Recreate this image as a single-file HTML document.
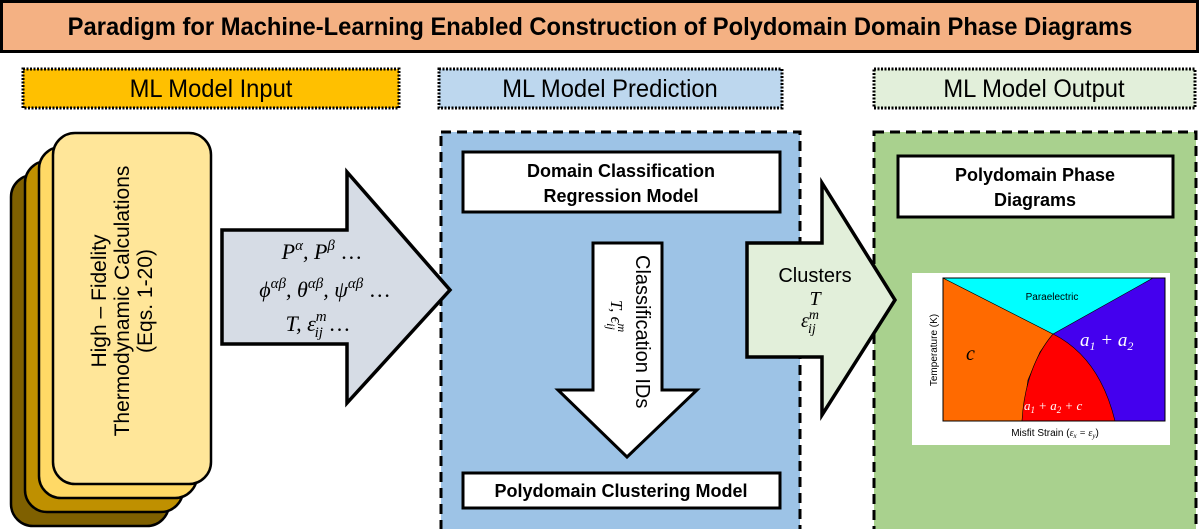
<!DOCTYPE html>
<html><head><meta charset="utf-8"><style>
html,body{margin:0;padding:0;background:#fff;width:1200px;height:529px;overflow:hidden}
svg{display:block}
text{font-family:"Liberation Sans",sans-serif}
.m, .m text, text.m{font-family:"Liberation Serif",serif;font-style:italic}
</style></head><body>
<svg width="1200" height="529" viewBox="0 0 1200 529" xmlns="http://www.w3.org/2000/svg">
<!-- title -->
<rect x="1.5" y="1.5" width="1196" height="50" fill="#f4b183" stroke="#000" stroke-width="3"/>
<text x="600" y="35" text-anchor="middle" font-size="25" font-weight="bold" transform="translate(600 0) scale(0.95 1) translate(-600 0)">Paradigm for Machine-Learning Enabled Construction of Polydomain Domain Phase Diagrams</text>
<!-- header labels -->
<g stroke="#000" stroke-width="3" stroke-dasharray="2 1.5">
<rect x="23" y="69" width="376" height="39" fill="#ffc000"/>
<rect x="439" y="69" width="343" height="39" fill="#bdd7ee"/>
<rect x="874" y="69" width="321" height="39" fill="#e2efda"/>
</g>
<g font-size="25" text-anchor="middle">
<text x="211" y="97" transform="translate(211 0) scale(0.95 1) translate(-211 0)">ML Model Input</text>
<text x="610" y="97" transform="translate(610 0) scale(0.95 1) translate(-610 0)">ML Model Prediction</text>
<text x="1034" y="97" transform="translate(1034 0) scale(0.95 1) translate(-1034 0)">ML Model Output</text>
</g>
<!-- panels -->
<rect x="441" y="132" width="359" height="400" fill="#9dc3e6" stroke="#000" stroke-width="3" stroke-dasharray="10 6"/>
<rect x="874" y="132" width="322" height="400" fill="#a9d18e" stroke="#000" stroke-width="3" stroke-dasharray="10 6"/>
<!-- stacked cards -->
<g stroke="#000" stroke-width="2.5">
<rect x="11" y="175" width="158" height="351" rx="22" fill="#7f6000"/>
<rect x="25" y="161" width="158" height="351" rx="22" fill="#bf9000"/>
<rect x="39" y="147" width="158" height="351" rx="22" fill="#ffd966"/>
<rect x="53" y="133" width="158" height="351" rx="22" fill="#ffe699"/>
</g>
<g font-size="21" text-anchor="middle" transform="translate(122 301) rotate(-90)">
<text x="0" y="-16">High – Fidelity</text>
<text x="0" y="7">Thermodynamic Calculations</text>
<text x="0" y="30">(Eqs. 1-20)</text>
</g>
<!-- gray arrow -->
<polygon points="222,230 347,230 347,172 450,290 347,403 347,344 222,344" fill="#d6dce5" stroke="#000" stroke-width="3.5"/>
<g class="m" font-size="22" text-anchor="middle">
<text x="322" y="259">P<tspan font-size="15" dy="-9">α</tspan><tspan dy="9">, P</tspan><tspan font-size="15" dy="-9">β</tspan><tspan dy="9" font-style="normal"> …</tspan></text>
<text x="325" y="297">ϕ<tspan font-size="15" dy="-9">αβ</tspan><tspan dy="9">, θ</tspan><tspan font-size="15" dy="-9">αβ</tspan><tspan dy="9">, ψ</tspan><tspan font-size="15" dy="-9">αβ</tspan><tspan dy="9" font-style="normal"> …</tspan></text>
<text x="318" y="331">T, ε<tspan font-size="15" dy="-10">m</tspan><tspan font-size="15" dx="-12" dy="16">ij</tspan><tspan dy="-6" font-style="normal">  …</tspan></text>
</g>
<!-- blue panel boxes -->
<rect x="463" y="152" width="317" height="60" fill="#fff" stroke="#000" stroke-width="3"/>
<text x="621" y="177" text-anchor="middle" font-size="18" font-weight="bold">Domain Classification</text>
<text x="621" y="202" text-anchor="middle" font-size="18" font-weight="bold">Regression Model</text>
<polygon points="593,243 662,243 662,390 697,390 627,457 558,390 593,390" fill="#fff" stroke="#000" stroke-width="3"/>
<text transform="translate(636 255) rotate(90)" font-size="20">Classification IDs</text>
<text class="m" transform="translate(611 316) rotate(90)" font-size="17" text-anchor="middle">T, ϵ<tspan font-size="12" dy="-7">m</tspan><tspan font-size="12" dx="-9" dy="11">ij</tspan></text>
<rect x="463" y="473" width="317" height="35" fill="#fff" stroke="#000" stroke-width="3"/>
<text x="621" y="497" text-anchor="middle" font-size="18" font-weight="bold">Polydomain Clustering Model</text>
<!-- green arrow -->
<polygon points="747,243 822,243 822,183 895,300 822,415 822,357 747,357" fill="#e2efda" stroke="#000" stroke-width="3.5"/>
<text x="815" y="282" text-anchor="middle" font-size="20">Clusters</text>
<text class="m" x="815" y="305" text-anchor="middle" font-size="20">T</text>
<text class="m" x="810" y="327" text-anchor="middle" font-size="20">ε<tspan font-size="14" dy="-8">m</tspan><tspan font-size="14" dx="-11" dy="14">ij</tspan></text>
<!-- green panel -->
<rect x="898" y="156" width="275" height="61" fill="#fff" stroke="#000" stroke-width="3"/>
<text x="1035" y="181" text-anchor="middle" font-size="18" font-weight="bold">Polydomain Phase</text>
<text x="1035" y="206" text-anchor="middle" font-size="18" font-weight="bold">Diagrams</text>
<rect x="912" y="273" width="258" height="172" fill="#fff"/>
<rect x="943" y="278" width="222" height="143" fill="#4400ee"/>
<polygon points="943,278 1053,334 1040,352 1028,380 1022,421 943,421" fill="#ff6a00" stroke="#000" stroke-width="0.6"/>
<path d="M1053,334 C1035,355 1024,385 1022,421 L1115,421 C1105,380 1085,350 1053,334 Z" fill="#ff0000" stroke="#000" stroke-width="0.6"/>
<polygon points="943,278 1153,278 1053,334" fill="#00ffff" stroke="#000" stroke-width="0.6"/>
<rect x="943" y="278" width="222" height="143" fill="none" stroke="#000" stroke-width="1"/>
<text x="1052" y="300" text-anchor="middle" font-size="10">Paraelectric</text>
<text class="m" x="966" y="360" font-size="20">c</text>
<text class="m" x="1080" y="346" font-size="19" fill="#fff">a<tspan font-size="12" dy="4">1</tspan><tspan dy="-4"> + a</tspan><tspan font-size="12" dy="4">2</tspan></text>
<text class="m" x="1024" y="410" font-size="13" fill="#fff">a<tspan font-size="9" dy="3">1</tspan><tspan dy="-3"> + a</tspan><tspan font-size="9" dy="3">2</tspan><tspan dy="-3"> + c</tspan></text>
<text x="1055" y="436" text-anchor="middle" font-size="10">Misfit Strain (<tspan class="m">ε<tspan font-size="7" dy="2">x</tspan><tspan dy="-2"> = ε</tspan><tspan font-size="7" dy="2">y</tspan></tspan><tspan dy="-2">)</tspan></text>
<text transform="translate(937 350) rotate(-90)" text-anchor="middle" font-size="10">Temperature (K)</text>
</svg>
</body></html>
